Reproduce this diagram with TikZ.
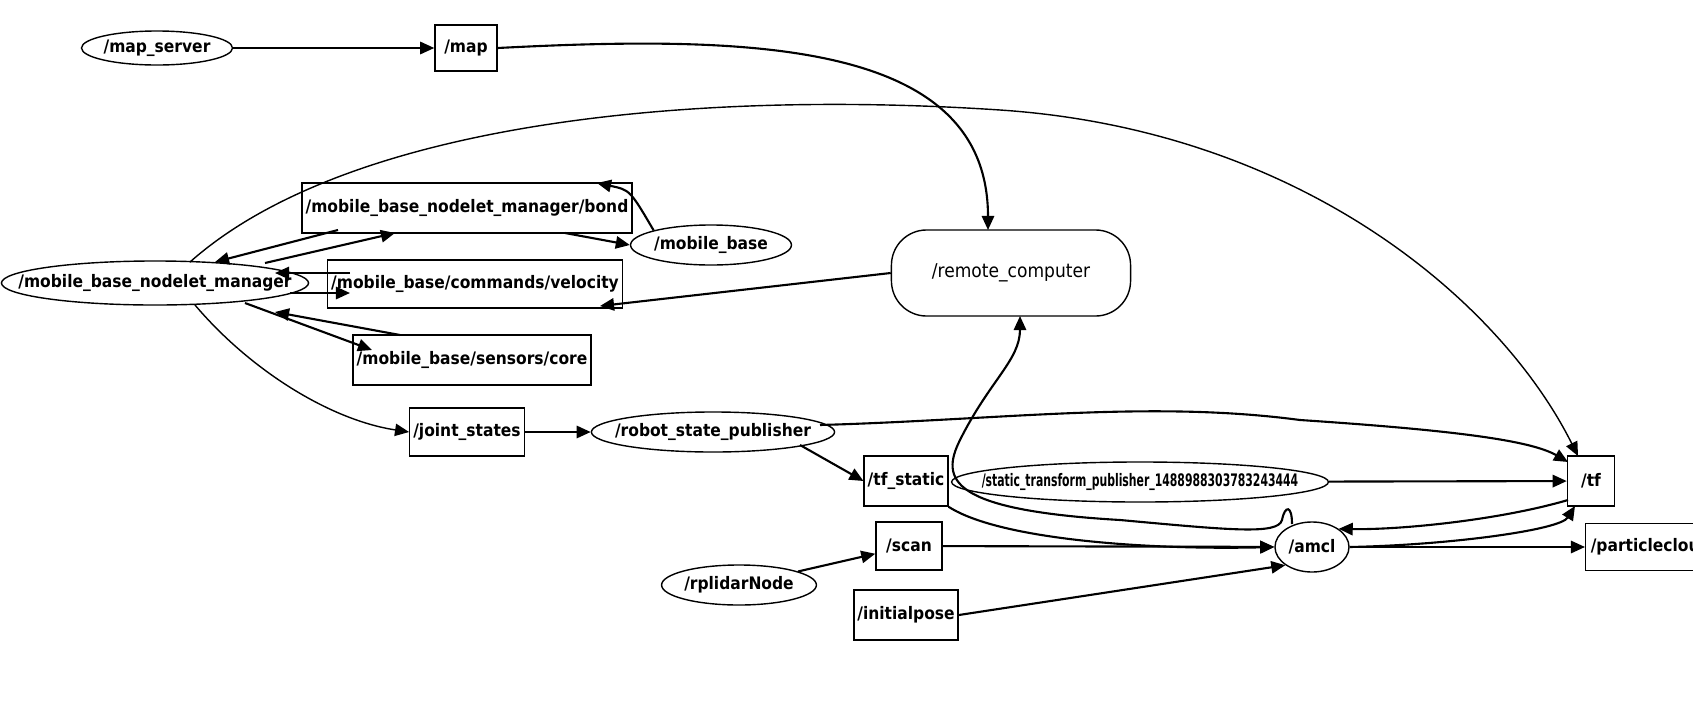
\documentclass[tikz,border=0pt]{standalone}
\usepackage{fontspec}
\usepackage{graphicx}
\setmainfont{DejaVu Sans Condensed}
\usetikzlibrary{shapes.geometric,arrows.meta}
\tikzset{
  topic/.style={draw, rectangle, inner sep=1pt, font=\fontsize{4.9}{6}\selectfont\bfseries},
  node/.style={draw, ellipse, inner sep=0pt, font=\fontsize{4.9}{6}\selectfont\bfseries},
  edge/.style={-{Triangle[length=4pt,width=3.5pt]}, semithick}
}
\begin{document}
\begin{tikzpicture}[x=0.01cm, y=-0.01cm]
    \useasboundingbox (0,0) rectangle (1693,724);

    \node[node, minimum width=1.36cm, minimum height=0.34cm] (mapserver) at (157,48) {/map\_server};
    \node[topic, minimum width=0.62cm, minimum height=0.46cm] (map) at (466,48) {/map};
    \node[topic, minimum width=2.59cm, minimum height=0.50cm] (bond) at (467,208) {/mobile\_base\_nodelet\_manager/bond};
    \node[node, minimum width=1.16cm, minimum height=0.40cm] (mobilebase) at (711,245) {/mobile\_base};
    \node[node, inner xsep=-0.28cm, minimum width=2.90cm, minimum height=0.44cm] (manager) at (155,283) {/mobile\_base\_nodelet\_manager};
    \node[topic, minimum width=2.50cm, minimum height=0.48cm] (velocity) at (475,284) {/mobile\_base/commands/velocity};
    \node[topic, minimum width=2.00cm, minimum height=0.50cm] (core) at (472,360) {/mobile\_base/sensors/core};
    \node[topic, minimum width=0.98cm, minimum height=0.48cm] (joint) at (467,432) {/joint\_states};
    \node[node, inner xsep=-0.12cm, minimum width=2.20cm, minimum height=0.40cm] (rsp) at (713,432) {/robot\_state\_publisher};
    \node[topic, minimum width=0.76cm, minimum height=0.50cm] (tfstatic) at (906,481) {/tf\_static};
    \node[draw, rounded corners=10pt, minimum width=2.39cm, minimum height=0.86cm, font=\fontsize{5.4}{7}\selectfont] (remote) at (1011,273) {/remote\_computer};
    \node[node, inner xsep=-0.25cm, minimum width=3.00cm, minimum height=0.40cm] (stp) at (1140,482) {\scalebox{0.7}[1]{/static\_transform\_publisher\_1488988303783243444}};
    \node[topic, minimum width=0.47cm, minimum height=0.50cm] (tf) at (1591,481) {/tf};
    \node[node, minimum width=0.74cm, minimum height=0.50cm] (amcl) at (1312,547) {/amcl};
    \node[topic, minimum width=1.30cm, minimum height=0.47cm, anchor=west] (cloud) at (1585,547) {/particlecloud};
    \node[topic, minimum width=0.66cm, minimum height=0.48cm] (scan) at (909,546) {/scan};
    \node[node, minimum width=1.14cm, minimum height=0.40cm] (rplidar) at (739,585) {/rplidarNode};
    \node[topic, minimum width=0.89cm, minimum height=0.50cm] (initpose) at (906,615) {/initialpose};

    \draw[edge] (mapserver) -- (map);
    \draw[edge] (map.east) .. controls (750,35) and (988,40) .. (988,230);
    \draw[edge, thin] (190,262) .. controls (350,120) and (700,90) .. (1000,110)
      .. controls (1300,130) and (1500,300) .. (1578,456);
    \draw[edge] (338,230) -- (215,262);
    \draw[edge] (265,263) -- (395,233);
    \draw[edge] (565,233) -- (mobilebase.west);
    \draw[edge] (mobilebase.north west) .. controls (630,190) .. (597,183);
    \draw[edge] (350,273) -- (275,273);
    \draw[edge] (290,293) -- (350,293);
    \draw[edge] (remote.west) -- (600,306);
    \draw[edge] (245,303) -- (372,350);
    \draw[edge] (400,335) -- (275,312);
    \draw[edge, thin] (195,305) .. controls (250,370) and (330,420) .. (joint.west);
    \draw[edge] (joint) -- (rsp);
    \draw[edge] (820,425) .. controls (1000,420) and (1150,400) .. (1300,420)
      .. controls (1450,430) and (1530,440) .. (1568,462);
    \draw[edge] (800,445) -- (tfstatic.west);
    \draw[edge] (stp) -- (tf);
    \draw[edge] (1568,500) .. controls (1500,520) and (1400,530) .. (amcl.north east);
    \draw[edge] (amcl.east) .. controls (1450,545) and (1560,530) .. (1575,506);
    \draw[edge] (amcl) -- (cloud);
    \draw[edge] (scan) -- (amcl);
    \draw[edge] (initpose.east) -- (amcl.south west);
    \draw[edge] (tfstatic.south east) .. controls (1000,540) and (1150,550) .. (amcl.west);
    \draw[edge] (rplidar) -- (scan);
    \draw[edge] (1292,524) .. controls (1292,505) and (1285,505) .. (1282,520)
      .. controls (1278,535) and (1230,530) .. (1120,520) .. controls (950,510) and (940,480) .. (960,440)
      .. controls (990,380) and (1020,360) .. (1020,316);
  \end{tikzpicture}
\end{document}
